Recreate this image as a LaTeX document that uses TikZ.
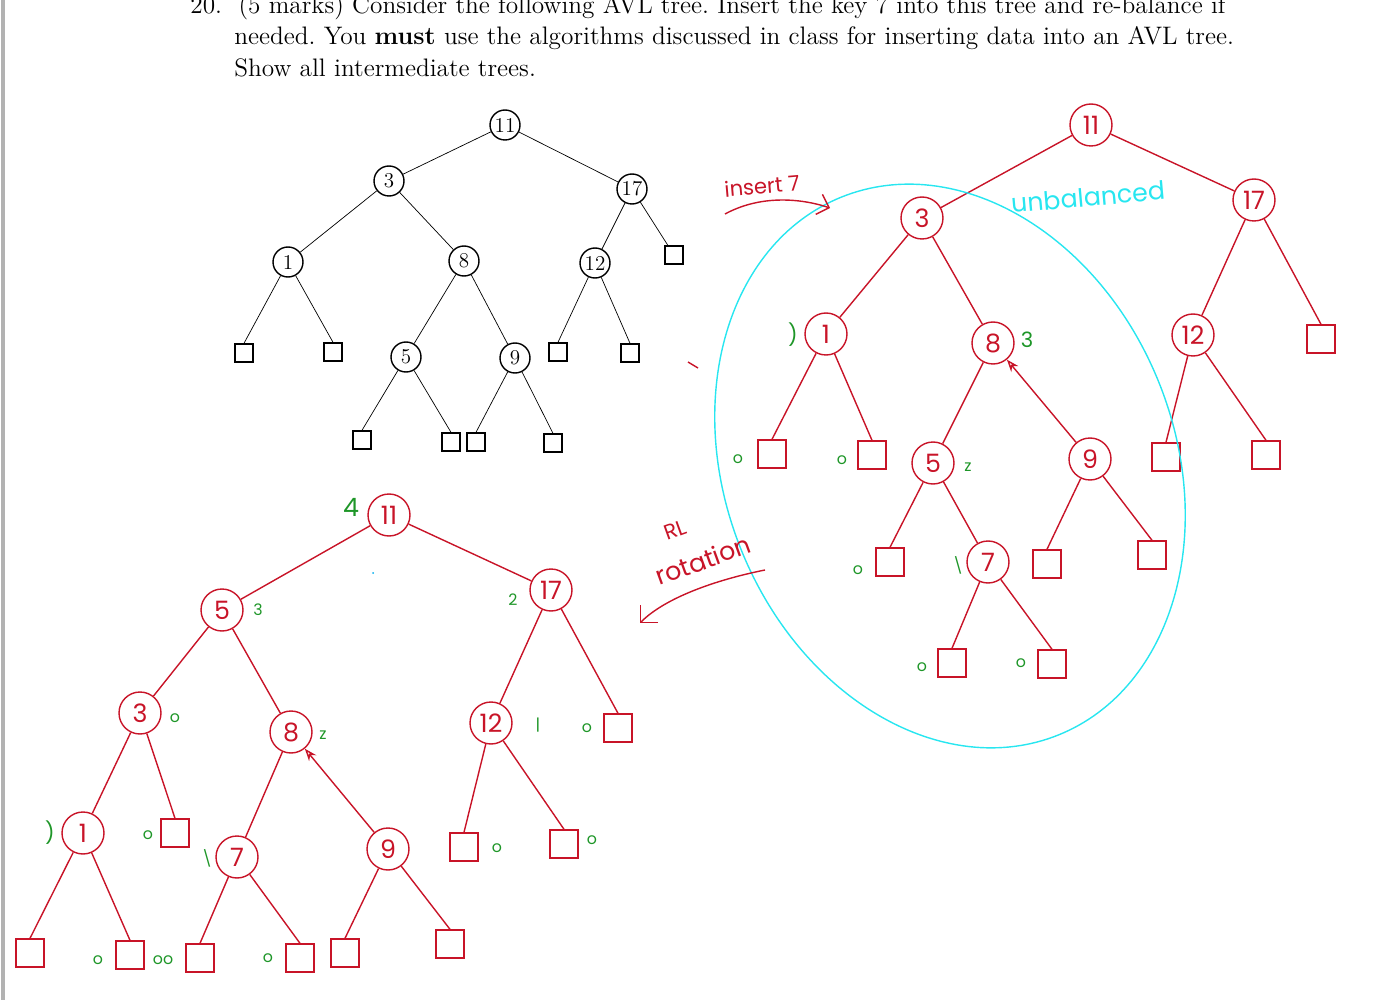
\documentclass[tikz,border=0pt]{standalone}
\usepackage{fontspec}
\newfontfamily\hand{Poppins}
\usetikzlibrary{arrows.meta}
\definecolor{rd}{RGB}{200,20,40}
\definecolor{gr}{RGB}{30,150,40}
\definecolor{cy}{RGB}{40,230,240}
\begin{document}
\begin{tikzpicture}[x=0.02cm,y=-0.02cm,
 bn/.style={circle,draw,thick,minimum size=0.6cm,inner sep=0pt,font=\large},
 bl/.style={draw,thick,minimum size=0.36cm,inner sep=0pt},
 rn/.style={circle,draw=rd,thick,minimum size=0.84cm,inner sep=0pt,text=rd,font=\hand\Large},
 rl/.style={draw=rd,thick,minimum size=0.56cm,inner sep=0pt},
 be/.style={draw},
 re/.style={draw=rd,thick},
 gl/.style={text=gr,font=\hand\small}]
\useasboundingbox (0,0) rectangle (1394,1000);
\draw[gray!60,line width=2pt] (3,0) -- (3,1000);
\node[anchor=north west,align=left,font=\Large,inner sep=0pt] (hdr) at (190,-6) {20.\ \ (5 marks) Consider the following AVL tree.\ Insert the key 7 into this tree and re-balance if\\
\hspace*{0.88cm}needed.\ You \textbf{must} use the algorithms discussed in class for inserting data into an AVL tree.\\
\hspace*{0.88cm}Show all intermediate trees.};
% black tree
\node[bn] (a11) at (505,125) {11};
\node[bn] (a3) at (389,181) {3};
\node[bn] (a17) at (632,189) {17};
\node[bn] (a1) at (288,262) {1};
\node[bn] (a8) at (464,261) {8};
\node[bn] (a12) at (595,263) {12};
\node[bl] (al1) at (674,255) {};
\node[bl] (al2) at (244,353) {};
\node[bl] (al3) at (333,352) {};
\node[bn] (a5) at (406,357) {5};
\node[bn] (a9) at (515,358) {9};
\node[bl] (al4) at (558,352) {};
\node[bl] (al5) at (630,353) {};
\node[bl] (al6) at (362,440) {};
\node[bl] (al7) at (451,442) {};
\node[bl] (al8) at (476,442) {};
\node[bl] (al9) at (553,443) {};
\draw[be] (a11)--(a3) (a11)--(a17) (a3)--(a1) (a3)--(a8) (a17)--(a12) (a17)--(al1)
 (a1)--(al2.north) (a1)--(al3.north) (a8)--(a5) (a8)--(a9) (a12)--(al4.north) (a12)--(al5.north)
 (a5)--(al6.north) (a5)--(al7.north) (a9)--(al8.north) (a9)--(al9.north);
% top right red tree
\node[rn] (b11) at (1091,125) {11};
\node[rn] (b3) at (922,218) {3};
\node[rn] (b17) at (1254,200) {17};
\node[rn] (b1) at (826,334) {1};
\node[rn] (b8) at (993,343) {8};
\node[rn] (b12) at (1193,335) {12};
\node[rl] (bl1) at (1321,339) {};
\node[rl] (bl2) at (772,454) {};
\node[rl] (bl3) at (872,455) {};
\node[rn] (b5) at (933,463) {5};
\node[rn] (b9) at (1090,459) {9};
\node[rl] (bl4) at (1166,457) {};
\node[rl] (bl5) at (1266,455) {};
\node[rl] (bl6) at (890,562) {};
\node[rn] (b7) at (988,562) {7};
\node[rl] (bl7) at (1047,564) {};
\node[rl] (bl8) at (1152,555) {};
\node[rl] (bl9) at (952,663) {};
\node[rl] (bl10) at (1052,664) {};
\draw[re] (b11)--(b3) (b11)--(b17) (b3)--(b1) (b3)--(b8) (b17)--(b12) (b17)--(bl1.north)
 (b1)--(bl2.north) (b1)--(bl3.north) (b8)--(b5) (b12)--(bl4.north) (b12)--(bl5.north)
 (b5)--(bl6.north) (b5)--(b7) (b9)--(bl7.north) (b9)--(bl8.north) (b7)--(bl9.north) (b7)--(bl10.north);
\draw[re,-{Stealth[length=7pt,open]}] (b9)--(b8);
\node[gl,font=\hand\large] at (793,335) {)};
\node[gl,font=\hand\large] at (1027,340) {3};
\node[gl] at (968,467) {z};
\node[gl] at (958,565) {\textbackslash};
\foreach \p in {(738,459),(842,460),(858,570),(922,667),(1021,663)} \node[gl] at \p {o};
\draw[cy,thick,rotate around={22:(950,466)}] (950,466) ellipse [x radius=225,y radius=290];
\node[cy,font=\hand\Large,rotate=5] (unb) at (1088,197) {unbalanced};
\node[rd,font=\hand\large,rotate=5] (ins) at (762,186) {insert 7};
\draw[rd,thick,-{Straight Barb[length=6pt]}] (725,214) .. controls (760,195) and (800,198) .. (830,208);
\draw[rd,thick] (688,362)--(698,368);
% bottom red tree
\node[rn] (c11) at (389,515) {11};
\node[rn] (c5) at (222,610) {5};
\node[rn] (c17) at (551,590) {17};
\node[rn] (c3) at (140,713) {3};
\node[rn] (c8) at (291,732) {8};
\node[rn] (c12) at (491,723) {12};
\node[rl] (cl1) at (618,728) {};
\node[rn] (c1) at (83,833) {1};
\node[rl] (cl2) at (175,833) {};
\node[rn] (c7) at (237,857) {7};
\node[rn] (c9) at (388,849) {9};
\node[rl] (cl3) at (464,847) {};
\node[rl] (cl4) at (564,844) {};
\node[rl] (cl5) at (30,953) {};
\node[rl] (cl6) at (130,955) {};
\node[rl] (cl7) at (200,958) {};
\node[rl] (cl8) at (300,958) {};
\node[rl] (cl9) at (345,953) {};
\node[rl] (cl10) at (450,944) {};
\draw[re] (c11)--(c5) (c11)--(c17) (c5)--(c3) (c5)--(c8) (c17)--(c12) (c17)--(cl1.north)
 (c3)--(c1) (c3)--(cl2.north) (c8)--(c7) (c12)--(cl3.north) (c12)--(cl4.north)
 (c1)--(cl5.north) (c1)--(cl6.north) (c7)--(cl7.north) (c7)--(cl8.north) (c9)--(cl9.north) (c9)--(cl10.north);
\draw[re,-{Stealth[length=7pt,open]}] (c9)--(c8);
\node[gl,font=\hand\Large] at (351,507) {4};
\node[gl] at (258,610) {3};
\node[gl] at (513,600) {2};
\node[gl] at (323,735) {z};
\node[gl] at (538,725) {|};
\node[gl,font=\hand\large] at (50,833) {)};
\node[gl] at (207,858) {\textbackslash};
\foreach \p in {(175,718),(587,728),(148,835),(497,848),(592,840),(98,960),(268,958)} \node[gl] at \p {o};
\node[gl] at (163,960) {oo};
\node[rd,font=\hand\large,rotate=20] (rl) at (675,530) {RL};
\node[rd,font=\hand\Large,rotate=20] (rot) at (703,560) {rotation};
\draw[rd,thick,-{Straight Barb[length=7pt]}] (765,570) .. controls (715,580) and (665,598) .. (640,623);
\fill[cyan] (373,573) circle (1);
\end{tikzpicture}
\end{document}
